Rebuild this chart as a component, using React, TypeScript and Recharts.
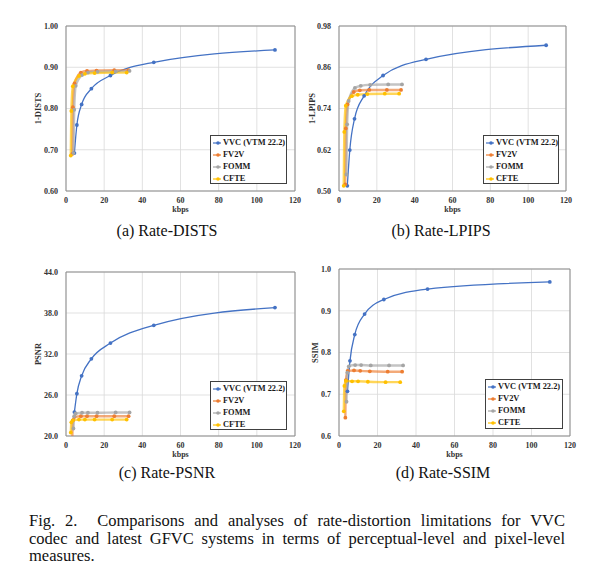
import React from "react";
import {
  LineChart,
  Line,
  XAxis,
  YAxis,
  CartesianGrid,
  Legend,
  ReferenceArea,
  Label,
} from "recharts";

// bitrates (kbps)
const kbpsTicks = [0, 20, 40, 60, 80, 100, 120];
const vvcKbps = [4.4, 5.7, 8.2, 13.3, 23.3, 46.0, 109.5];
const fv2vKbps = [3.3, 3.6, 4.5, 7.8, 11.0, 16.0, 25.3, 32.8];
const fommKbps = [3.9, 4.3, 5.1, 8.4, 11.5, 16.5, 26.0, 33.3];
const cfteKbps = [2.5, 2.8, 3.6, 6.8, 9.9, 15.0, 24.2, 31.8];

// 1-DISTS
const distsTicks = [0.6, 0.7, 0.8, 0.9, 1.0];
const vvcDists = [0.692, 0.76, 0.81, 0.848, 0.88, 0.912, 0.942];
const fv2vDists = [0.69, 0.803, 0.861, 0.887, 0.891, 0.892, 0.893, 0.893];
const fommDists = [0.692, 0.797, 0.855, 0.881, 0.887, 0.889, 0.89, 0.891];
const cfteDists = [0.686, 0.794, 0.854, 0.879, 0.884, 0.886, 0.887, 0.887];

// 1-LPIPS
const lpipsTicks = [0.5, 0.62, 0.74, 0.86, 0.98];
const vvcLpips = [0.515, 0.619, 0.71, 0.777, 0.836, 0.883, 0.924];
const fv2vLpips = [0.519, 0.682, 0.752, 0.788, 0.793, 0.794, 0.794, 0.794];
const fommLpips = [0.548, 0.694, 0.762, 0.8, 0.806, 0.809, 0.81, 0.81];
const cfteLpips = [0.515, 0.672, 0.748, 0.776, 0.78, 0.782, 0.783, 0.783];

// PSNR
const psnrTicks = [20, 26, 32, 38, 44];
const vvcPsnr = [23.5, 26.2, 28.8, 31.3, 33.6, 36.2, 38.8];
const fv2vPsnr = [19.6, 22.3, 22.8, 22.9, 22.9, 22.9, 22.9, 22.9];
const fommPsnr = [21.1, 22.9, 23.3, 23.4, 23.4, 23.4, 23.45, 23.45];
const cftePsnr = [20.5, 22.0, 22.3, 22.4, 22.4, 22.4, 22.4, 22.4];

// SSIM
const ssimTicks = [0.6, 0.7, 0.8, 0.9, 1.0];
const vvcSsim = [0.707, 0.78, 0.843, 0.892, 0.927, 0.952, 0.969];
const fv2vSsim = [0.644, 0.734, 0.756, 0.757, 0.756, 0.755, 0.754, 0.754];
const fommSsim = [0.682, 0.752, 0.767, 0.77, 0.77, 0.769, 0.769, 0.769];
const cfteSsim = [0.659, 0.72, 0.732, 0.731, 0.731, 0.73, 0.729, 0.729];

const seriesNames = ["VVC (VTM 22.2)", "FV2V", "FOMM", "CFTE"];
const seriesColors = ["#4472C4", "#ED7D31", "#A5A5A5", "#FFC000"];
const seriesKbps = [vvcKbps, fv2vKbps, fommKbps, cfteKbps];

const serif = "'Liberation Serif', 'Times New Roman', serif";

const toRows = (xs: number[], ys: number[]) =>
  xs.map((x, i) => ({ x, y: ys[i] }));

const panels = [
  {
    title: "1-DISTS",
    caption: "(a) Rate-DISTS",
    plot: { l: 66, r: 295, t: 26, b: 191 },
    yLabelX: 38,
    ticks: distsTicks,
    digits: 2,
    values: [vvcDists, fv2vDists, fommDists, cfteDists],
    legend: { l: 210, t: 135, w: 77, h: 49 },
    cap: { x: 167, y: 231 },
  },
  {
    title: "1-LPIPS",
    caption: "(b) Rate-LPIPS",
    plot: { l: 339, r: 566, t: 26, b: 191 },
    yLabelX: 312,
    ticks: lpipsTicks,
    digits: 2,
    values: [vvcLpips, fv2vLpips, fommLpips, cfteLpips],
    legend: { l: 483, t: 135, w: 76, h: 49 },
    cap: { x: 441, y: 231 },
  },
  {
    title: "PSNR",
    caption: "(c) Rate-PSNR",
    plot: { l: 66, r: 295, t: 272, b: 436 },
    yLabelX: 38,
    ticks: psnrTicks,
    digits: 1,
    values: [vvcPsnr, fv2vPsnr, fommPsnr, cftePsnr],
    legend: { l: 210, t: 381, w: 77, h: 49 },
    cap: { x: 167, y: 473 },
  },
  {
    title: "SSIM",
    caption: "(d) Rate-SSIM",
    plot: { l: 339, r: 570, t: 269, b: 436 },
    yLabelX: 315,
    ticks: ssimTicks,
    digits: 1,
    values: [vvcSsim, fv2vSsim, fommSsim, cfteSsim],
    legend: { l: 485, t: 379, w: 78, h: 50 },
    cap: { x: 443, y: 473 },
  },
];

const tickStyle = {
  fill: "#333",
  fontSize: 8,
  fontWeight: 700,
  fontFamily: serif,
};

const makeLegend = (w: number, h: number) => () => (
  <div
    style={{
      position: "relative",
      width: w,
      height: h,
      boxSizing: "border-box",
      border: "1px solid #404040",
      background: "#fff",
      paddingTop: 0.5,
      paddingLeft: 2,
    }}
  >
    {seriesNames.map((name, i) => (
      <div
        key={name}
        style={{
          display: "flex",
          alignItems: "center",
          height: 12,
          whiteSpace: "nowrap",
        }}
      >
        <svg width={8} height={6} style={{ flex: "none" }}>
          <line x1={0} y1={3} x2={8} y2={3} stroke={seriesColors[i]} strokeWidth={1.2} />
          <circle cx={5} cy={3} r={1.8} fill={seriesColors[i]} />
        </svg>
        <span
          style={{
            marginLeft: 2,
            fontSize: 8.4,
            fontWeight: 700,
            fontFamily: serif,
            color: "#1a1a1a",
            lineHeight: "12px",
          }}
        >
          {name}
        </span>
      </div>
    ))}
  </div>
);

function Panel({ p }: { p: (typeof panels)[number] }) {
  const left = p.plot.l - 50;
  const top = p.plot.t - 14;
  const width = p.plot.r - p.plot.l + 58;
  const height = p.plot.b - p.plot.t + 42;
  const domain = [p.ticks[0], p.ticks[p.ticks.length - 1]];
  const midY = 14 + (p.plot.b - p.plot.t) / 2;

  return (
    <div style={{ position: "absolute", left, top }}>
      <LineChart
        width={width}
        height={height}
        margin={{ top: 14, right: 8, left: 0, bottom: 0 }}
      >
        <CartesianGrid stroke="#d9d9d9" strokeWidth={0.8} />
        <XAxis
          type="number"
          dataKey="x"
          domain={[0, 120]}
          ticks={kbpsTicks}
          interval={0}
          height={28}
          tickLine={false}
          axisLine={false}
          tickSize={0}
          tickMargin={6}
          tick={tickStyle}
        >
          <Label
            content={() => (
              <text
                x={50 + (p.plot.r - p.plot.l) / 2}
                y={p.plot.b - top + 21}
                textAnchor="middle"
                fontSize={8}
                fontWeight={700}
                fontFamily={serif}
                fill="#333"
              >
                kbps
              </text>
            )}
          />
        </XAxis>
        <YAxis
          type="number"
          domain={domain}
          ticks={p.ticks}
          interval={0}
          width={50}
          allowDataOverflow
          tickLine={false}
          axisLine={false}
          tickSize={0}
          tickMargin={8}
          tickFormatter={(v: number) => v.toFixed(p.digits)}
          tick={tickStyle}
        >
          <Label
            content={() => (
              <text
                x={p.yLabelX - left}
                y={midY}
                transform={`rotate(-90 ${p.yLabelX - left} ${midY})`}
                textAnchor="middle"
                dominantBaseline="central"
                fontSize={8.5}
                fontWeight={700}
                fontFamily={serif}
                fill="#333"
              >
                {p.title}
              </text>
            )}
          />
        </YAxis>
        <ReferenceArea
          x1={0}
          x2={120}
          y1={domain[0]}
          y2={domain[1]}
          fill="none"
          stroke="#8c8c8c"
          strokeWidth={1}
        />
        {seriesNames.map((name, i) => (
          <Line
            key={name}
            name={name}
            data={toRows(seriesKbps[i], p.values[i])}
            dataKey="y"
            type="monotone"
            stroke={seriesColors[i]}
            strokeWidth={i === 0 ? 1.3 : 2.4}
            strokeOpacity={i === 0 ? 1 : 0.65}
            dot={{ r: 1.9, fill: seriesColors[i], stroke: seriesColors[i], strokeWidth: 0 }}
            activeDot={false}
            isAnimationActive={false}
          />
        ))}
        <Legend
          layout="vertical"
          align="center"
          verticalAlign="middle"
          wrapperStyle={{
            left: p.legend.l - left,
            top: p.legend.t - top,
            width: p.legend.w,
            height: p.legend.h,
          }}
          content={makeLegend(p.legend.w, p.legend.h)}
        />
      </LineChart>
    </div>
  );
}

const captionLine = {
  width: 536,
  fontSize: 16.5,
  lineHeight: "17.5px",
  fontFamily: serif,
  color: "#111",
};

export default function App() {
  return (
    <div
      style={{
        position: "absolute",
        left: 0,
        top: 0,
        width: 592,
        height: 572,
        background: "#fff",
        overflow: "hidden",
      }}
    >
      {panels.map((p) => (
        <Panel key={p.title} p={p} />
      ))}
      {panels.map((p) => (
        <div
          key={p.caption}
          style={{
            position: "absolute",
            left: p.cap.x - 100,
            top: p.cap.y - 9,
            width: 200,
            textAlign: "center",
            fontSize: 16,
            lineHeight: "18px",
            fontFamily: serif,
            color: "#111",
          }}
        >
          {p.caption}
        </div>
      ))}
      <div style={{ position: "absolute", left: 29, top: 512 }}>
        <div style={{ ...captionLine, textAlign: "justify", textAlignLast: "justify" }}>
          Fig. 2.&nbsp; Comparisons and analyses of rate-distortion limitations for VVC
        </div>
        <div style={{ ...captionLine, textAlign: "justify", textAlignLast: "justify" }}>
          codec and latest GFVC systems in terms of perceptual-level and pixel-level
        </div>
        <div style={captionLine}>measures.</div>
      </div>
    </div>
  );
}
